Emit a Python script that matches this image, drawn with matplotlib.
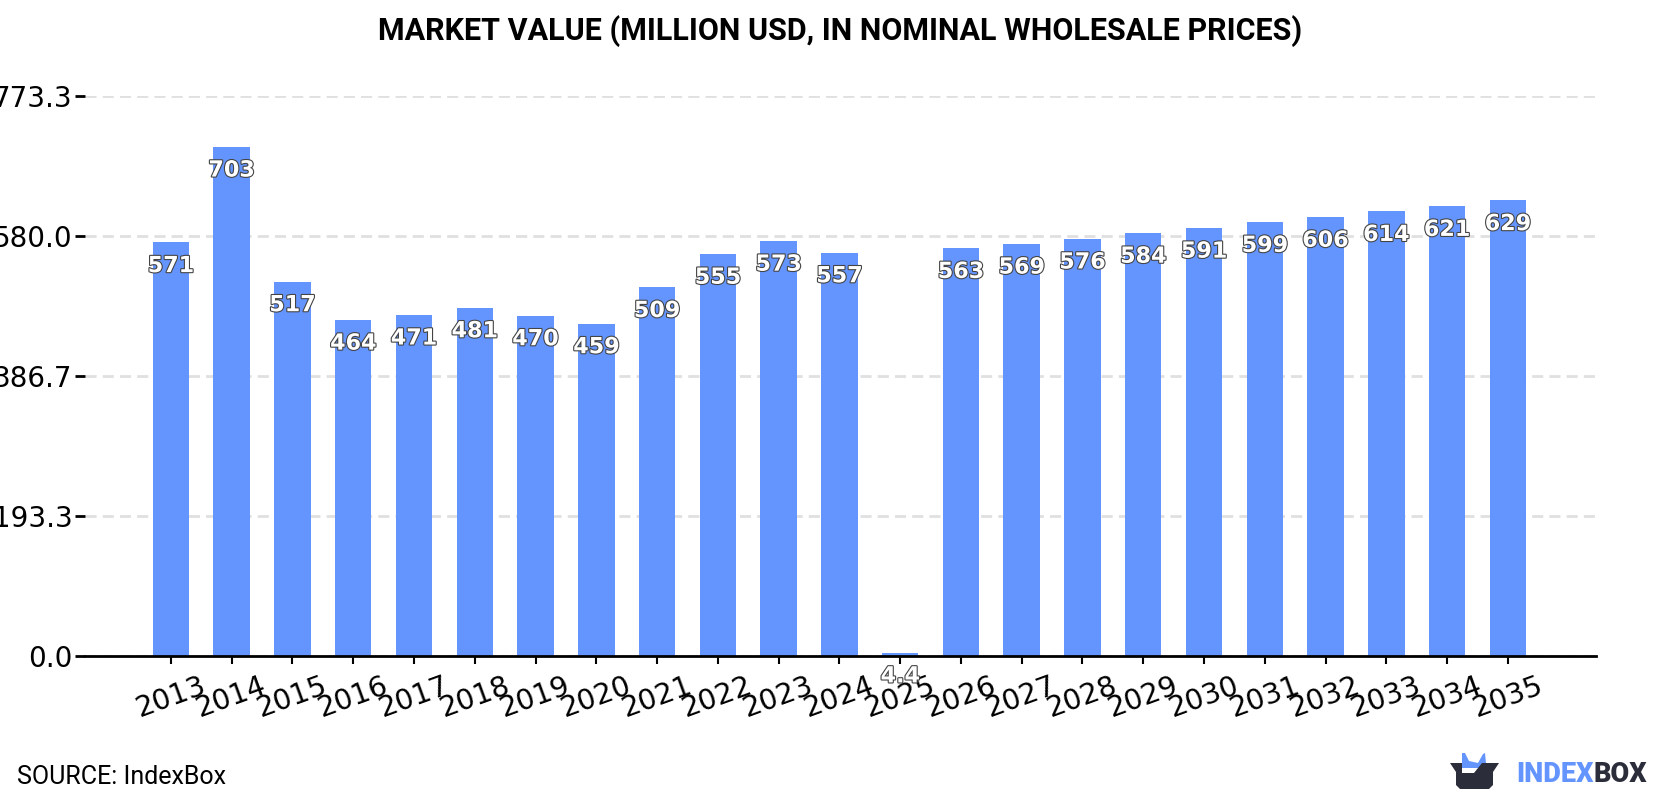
import matplotlib
matplotlib.use("Agg")
import matplotlib.pyplot as plt
import matplotlib.patheffects as pe
from matplotlib.patches import Polygon

years = [str(y) for y in range(2013, 2036)]
values = [571, 703, 517, 464, 471, 481, 470, 459, 509, 555, 573, 557, 4.4,
          563, 569, 576, 584, 591, 599, 606, 614, 621, 629]
y_ticks = [0.0, 193.3, 386.7, 580.0, 773.3]

BLUE = "#6495ff"
DARK = "#2b2d3a"

W, H = 1680, 800
fig = plt.figure(figsize=(W / 100, H / 100), dpi=100)
ax = fig.add_axes([85 / W, 1 - 656 / H, (1596 - 85) / W, (656 - 96) / H])

ax.bar(range(len(values)), values, width=0.6, color=BLUE, zorder=2)
ax.set_xlim(-1.414, 23.45)
ax.set_ylim(0, 773.3)

ax.set_yticks(y_ticks)
ax.set_yticklabels([f"{t:.1f}" for t in y_ticks], fontsize=20)
ax.set_xticks(range(len(years)))
ax.set_xticklabels(years, fontsize=20.5, rotation=20)
ax.tick_params(axis="y", length=7, width=2, pad=2)
ax.tick_params(axis="x", length=6, width=1.5, pad=5)

ax.grid(axis="y", color="#e0e0e0", linestyle=(0, (4, 2.2)), linewidth=2, zorder=1)
for side in ["top", "right", "left"]:
    ax.spines[side].set_visible(False)
ax.spines["bottom"].set_linewidth(2)
ax.spines["bottom"].set_zorder(5)

# value labels sit just under the top of each bar
for i, v in enumerate(values):
    txt = ax.annotate(f"{v:g}", (i, v), xytext=(0, -17), textcoords="offset points",
                      ha="center", va="center", fontsize=16, fontweight="bold",
                      color="white", zorder=6, annotation_clip=False)
    txt.set_path_effects([pe.withStroke(linewidth=1.6, foreground="#444444")])

fig.text(840 / W, 1 - 31 / H, "MARKET VALUE (MILLION USD, IN NOMINAL WHOLESALE PRICES)",
         ha="center", va="center", fontsize=22, fontweight="bold", family="Roboto")
fig.text(17 / W, 1 - 777 / H, "SOURCE: IndexBox", ha="left", va="center",
         fontsize=18, family="Roboto")

# logo: box with blue crown, then the wordmark
logo = fig.add_axes([0, 0, 1, 1], facecolor="none")
logo.set_xlim(0, W)
logo.set_ylim(H, 0)
logo.axis("off")
crown = [(1462, 768), (1462, 753), (1465, 753), (1469, 761), (1478, 763),
         (1483, 754), (1485, 753), (1486, 763), (1490, 768)]
logo.add_patch(Polygon(crown, closed=True, color=BLUE, lw=0))
box = [(1450, 763), (1462, 763), (1462, 773), (1474, 773), (1482, 763), (1499, 763),
       (1493, 772), (1493, 785), (1489, 789), (1460, 789), (1456, 785), (1456, 772)]
logo.add_patch(Polygon(box, closed=True, color=DARK, lw=0))
t1 = logo.text(1516, 775, "INDEX", color=BLUE, fontsize=19.5, fontweight=900,
               family="Roboto", ha="left", va="center")
fig.canvas.draw()
end = t1.get_window_extent().x1
logo.text(end, 775, "BOX", color=DARK, fontsize=19.5, fontweight=900,
          family="Roboto", ha="left", va="center")

fig.savefig("out.png", dpi=100)
